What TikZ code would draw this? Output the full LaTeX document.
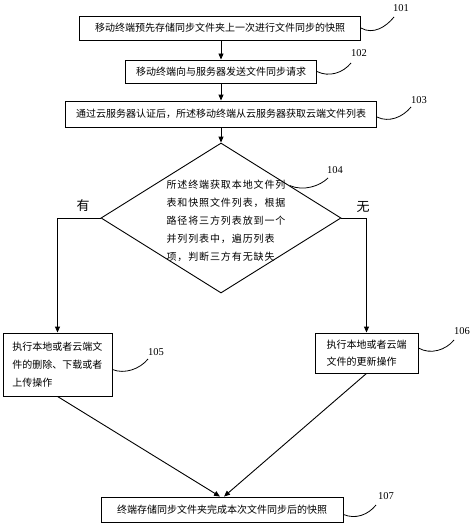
\documentclass[tikz,border=0pt]{standalone}
\usepackage{fontspec}
\setmainfont{Liberation Serif}
\newfontfamily\cjk{Noto Sans CJK SC}
\newfontfamily\cjkwide[LetterSpace=9]{Noto Sans CJK SC}
\usetikzlibrary{arrows.meta,shapes.geometric,calc}
\begin{document}
\begin{tikzpicture}[x=1pt,y=-1pt,
  box/.style={draw,line width=0.9pt,inner sep=0pt,font=\cjk\fontsize{10}{18}\selectfont,align=left},
  arr/.style={line width=0.9pt,-{Triangle[length=6pt,width=5pt]}},
  lead/.style={line width=0.8pt},
  num/.style={font=\fontsize{10.5}{12}\selectfont,inner sep=0pt},
  yn/.style={font=\cjk\fontsize{13}{14}\selectfont,inner sep=0pt}]
\useasboundingbox (0,0) rectangle (474,527);
% boxes
\node[box,minimum width=281pt,minimum height=24pt] (b101) at (220,28) {移动终端预先存储同步文件夹上一次进行文件同步的快照};
\node[box,minimum width=191pt,minimum height=23pt] (b102) at (221,71.5) {移动终端向与服务器发送文件同步请求};
\node[box,minimum width=311pt,minimum height=26pt] (b103) at (221,114) {通过云服务器认证后，所述移动终端从云服务器获取云端文件列表};
\node[diamond,draw,line width=0.9pt,minimum width=240pt,minimum height=150pt,inner sep=0pt] (d) at (221,218) {};
\node[font=\cjkwide\fontsize{10}{18}\selectfont,align=left,inner sep=0pt] (dt) at (226,221)
  {所述终端获取本地文件列\\表和快照文件列表，根据\\路径将三方列表放到一个\\并列列表中，遍历列表\\项，判断三方有无缺失};
\node[box,minimum width=109pt,minimum height=63pt] (b105) at (57.5,364.5) {执行本地或者云端文\\件的删除、下载或者\\上传操作};
\node[box,minimum width=103pt,minimum height=40pt,font=\cjk\fontsize{10}{17}\selectfont] (b106) at (366.5,353) {执行本地或者云端\\文件的更新操作};
\node[box,minimum width=242pt,minimum height=25pt] (b107) at (222,509.5) {终端存储同步文件夹完成本次文件同步后的快照};
% labels
\node[yn] (yes) at (83,206) {有};
\node[yn] (no) at (363,207) {无};
\node[num] (l101) at (401,8) {101};
\node[num] (l102) at (359,53) {102};
\node[num] (l103) at (419,100) {103};
\node[num] (l104) at (335,170) {104};
\node[num] (l105) at (156,352) {105};
\node[num] (l106) at (462,331) {106};
\node[num] (l107) at (386,496) {107};
% connectors
\draw[arr] (b101.south -| b102.north) -- (b102.north);
\draw[arr] (b102) -- (b103);
\draw[arr] (b103) -- (d.north);
\draw[arr] (d.west) -| (b105.north);
\draw[arr] (d.east) -| (b106.north);
\draw[arr] (b105.south) -- ($(b107.north)+(-2,0)$);
\draw[arr] (b106.south) -- ($(b107.north)+(2,0)$);
% leader curves
\coordinate (c101) at (394,17);
\coordinate (c102) at (351,63);
\coordinate (c103) at (411,107);
\coordinate (c104) at (328,178);
\coordinate (c105) at (148,359);
\coordinate (c106) at (454,340);
\coordinate (c107) at (376,505);
\coordinate (s104) at ($(d.north)!0.57!(d.east)$);
\draw[lead] (b101.east) .. controls +(12,7) and +(-8,10) .. (c101);
\draw[lead] (b102.east) .. controls +(12,6) and +(-8,10) .. (c102);
\draw[lead] ($(b103.east)+(0,3)$) .. controls +(12,6) and +(-8,10) .. (c103);
\draw[lead] (s104) .. controls +(14,6) and +(-8,8) .. (c104);
\draw[lead] ($(b105.east)+(0,5)$) .. controls +(12,5) and +(-8,10) .. (c105);
\draw[lead] ($(b106.east)+(0,-5)$) .. controls +(12,7) and +(-8,10) .. (c106);
\draw[lead] ($(b107.east)+(0,5)$) .. controls +(12,5) and +(-8,10) .. (c107);
\end{tikzpicture}
\end{document}
